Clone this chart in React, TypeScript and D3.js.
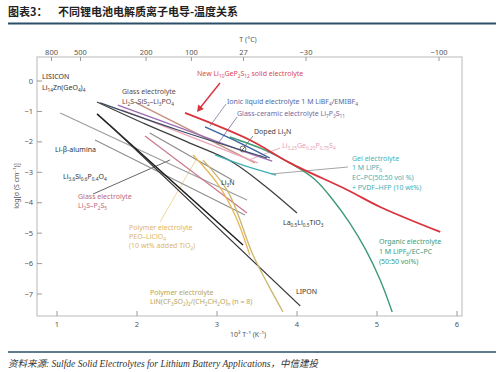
import React from "react";
import * as d3 from "d3";

// ---------- data (x = 1000/T in K^-1, y = log10 sigma) ----------
const xTicks = [1, 2, 3, 4, 5, 6];
const yTicks = [0, -1, -2, -3, -4, -5, -6, -7];
const topTicksC = [800, 500, 200, 100, 27, -30, -100];

const lgps: [number, number][] = [[2.6, -1.05], [3.41, -1.94], [3.91, -2.69], [4.63, -3.58], [5.04, -4.14], [5.79, -4.96]];
const organic: [number, number][] = [[3.16, -1.84], [3.6, -2.27], [3.91, -2.69], [4.23, -3.25], [4.45, -3.91], [4.66, -4.67], [4.86, -5.55], [5.04, -6.54], [5.19, -7.59]];
const ionicLiquid: [number, number][] = [[2.85, -1.51], [3.29, -2.04], [3.66, -2.53]];
const gel: [number, number][] = [[2.975, -2.43], [3.35, -2.79], [3.74, -3.09]];
const li7p3s11: [number, number][] = [[1.76, -0.79], [2.54, -1.54], [3.35, -2.33], [3.69, -2.63]];
const thioLisicon: [number, number][] = [[1.81, -0.95], [3.51, -2.69]];
const glassSiS2: [number, number][] = [[1.99, -0.72], [3.475, -2.69]];
const dopedLi3N: [number, number][] = [[1.54, -0.72], [2.51, -1.61], [3.625, -2.53]];
const llto: [number, number][] = [[1.5, -0.69], [2.1, -1.41], [2.66, -2.04], [3.19, -2.66], [3.6, -3.45], [4.0, -4.34]];
const lisicon: [number, number][] = [[1.5, -1.08], [3.325, -5.39]];
const lipon: [number, number][] = [[1.66, -1.45], [4.04, -7.39]];
const betaAlumina: [number, number][] = [[1.04, -1.05], [3.375, -3.91]];
const li36si: [number, number][] = [[1.475, -1.94], [3.35, -4.4]];
const glassP2S5: [number, number][] = [[2.1, -1.81], [3.375, -4.34]];
const li3n: [number, number][] = [[2.16, -1.71], [3.19, -3.25]];
const peoLiClO4: [number, number][] = [[2.7, -2.43], [3.0, -3.35], [3.225, -4.4], [3.41, -5.72]];
const peoLiTFSI: [number, number][] = [[2.825, -2.6], [3.14, -3.65], [3.45, -5.72], [3.64, -6.7], [3.825, -7.59]];

const series = [
  { name: "β-alumina", data: betaAlumina, color: "#9c9c9c", w: 1.1 },
  { name: "Li3.6Si", data: li36si, color: "#8e8e8e", w: 1.1 },
  { name: "Li3N", data: li3n, color: "#8a8a8a", w: 1.1 },
  { name: "Li2S-P2S5", data: glassP2S5, color: "#c9788a", w: 1.2 },
  { name: "Li2S-SiS2", data: glassSiS2, color: "#c4907c", w: 1.3 },
  { name: "thio-LISICON", data: thioLisicon, color: "#eca4b8", w: 1.3 },
  { name: "Li7P3S11", data: li7p3s11, color: "#9a6cb2", w: 1.3 },
  { name: "LLTO", data: llto, color: "#404040", w: 1.3 },
  { name: "doped Li3N", data: dopedLi3N, color: "#3a4a60", w: 1.3 },
  { name: "LISICON", data: lisicon, color: "#1c1c1c", w: 1.4 },
  { name: "LIPON", data: lipon, color: "#333333", w: 1.3 },
  { name: "PEO-LiClO4", data: peoLiClO4, color: "#e8b752", w: 1.3 },
  { name: "PEO-LiTFSI", data: peoLiTFSI, color: "#c9b56b", w: 1.3 },
  { name: "gel", data: gel, color: "#3fb0b4", w: 1.3 },
  { name: "ionic", data: ionicLiquid, color: "#3a64a0", w: 1.4 },
  { name: "organic", data: organic, color: "#3e9a76", w: 1.4 },
  { name: "LGPS", data: lgps, color: "#d9343e", w: 1.8 },
];

// ---------- annotation layout ----------
const labels = [
  { t: "LISICON", x: 42, y: 79, c: "#333" },
  { t: "Li_{14}Zn(GeO_{4})_{4}", x: 42, y: 90, c: "#333" },
  { t: "Glass electrolyte", x: 122, y: 94, c: "#5a4848" },
  { t: "Li_{2}S–SiS_{2}–Li_{3}PO_{4}", x: 122, y: 104, c: "#5a4848" },
  { t: "New Li_{10}GeP_{2}S_{12} solid electrolyte", x: 197, y: 76, c: "#d94a56" },
  { t: "Ionic liquid electrolyte 1 M LiBF_{4}/EMIBF_{4}", x: 227, y: 104, c: "#5468a0" },
  { t: "Glass-ceramic electrolyte Li_{7}P_{3}S_{11}", x: 237, y: 116, c: "#7868a0" },
  { t: "Doped Li_{3}N", x: 254, y: 134, c: "#444" },
  { t: "Li_{3.25}Ge_{0.25}P_{0.75}S_{4}", x: 282, y: 148, c: "#eaa0b8" },
  { t: "Gel electrolyte", x: 352, y: 161, c: "#48b0b5" },
  { t: "1 M LiPF_{6}", x: 352, y: 170, c: "#48b0b5" },
  { t: "EC–PC(50:50 vol %)", x: 352, y: 180, c: "#48b0b5" },
  { t: "+ PVDF–HFP (10 wt%)", x: 352, y: 190, c: "#48b0b5" },
  { t: "Li-β-alumina", x: 55, y: 152, c: "#333" },
  { t: "Li_{3.6}Si_{0.6}P_{0.4}O_{4}", x: 63, y: 179, c: "#333" },
  { t: "Glass electrolyte", x: 78, y: 199, c: "#c06878" },
  { t: "Li_{2}S–P_{2}S_{5}", x: 78, y: 208, c: "#c06878" },
  { t: "Li_{3}N", x: 221, y: 185, c: "#333" },
  { t: "La_{0.5}Li_{0.5}TiO_{3}", x: 283, y: 225, c: "#333" },
  { t: "Organic electrolyte", x: 379, y: 244, c: "#3e9a76" },
  { t: "1 M LiPF_{6}/EC–PC", x: 379, y: 254, c: "#3e9a76" },
  { t: "(50:50 vol%)", x: 379, y: 264, c: "#3e9a76" },
  { t: "LIPON", x: 296, y: 294, c: "#333" },
  { t: "Polymer electrolyte", x: 150, y: 295, c: "#b5a45c" },
  { t: "LiN(CF_{3}SO_{2})_{2}/(CH_{2}CH_{2}O)_{n} (n = 8)", x: 150, y: 304, c: "#b5a45c" },
  { t: "Polymer electrolyte", x: 129, y: 230, c: "#e2b565" },
  { t: "PEO–LiClO_{4}", x: 129, y: 239, c: "#e2b565" },
  { t: "(10 wt% added TiO_{2})", x: 129, y: 248, c: "#e2b565" },
];

const leaders = [
  { x1: 226, y1: 104, x2: 210, y2: 126, c: "#8a8ea8" },
  { x1: 237, y1: 117, x2: 217, y2: 145, c: "#8a7aa8" },
  { x1: 253, y1: 136, x2: 245, y2: 146, c: "#777" },
  { x1: 280, y1: 148, x2: 249, y2: 160, c: "#eaa0b8" },
  { x1: 348, y1: 167, x2: 271, y2: 174, c: "#9a9a9a" },
  { x1: 93, y1: 194, x2: 170, y2: 160, c: "#555" },
  { x1: 160, y1: 222, x2: 197, y2: 158, c: "#ecd290" },
];

const FONT = "'Noto Sans', 'Open Sans', sans-serif";

function Rich({ t, x, y, fs, fill, anchor }: { t: string; x: number; y: number; fs: number; fill: string; anchor?: string }) {
  const parts: { s: string; kind: "n" | "sub" | "sup" }[] = [];
  const re = /(_|\^)\{([^}]*)\}/g;
  let last = 0;
  let m: RegExpExecArray | null;
  while ((m = re.exec(t))) {
    if (m.index > last) parts.push({ s: t.slice(last, m.index), kind: "n" });
    parts.push({ s: m[2], kind: m[1] === "_" ? "sub" : "sup" });
    last = m.index + m[0].length;
  }
  if (last < t.length) parts.push({ s: t.slice(last), kind: "n" });
  let cur = 0;
  const spans = parts.map((p, i) => {
    const target = p.kind === "sub" ? fs * 0.3 : p.kind === "sup" ? -fs * 0.35 : 0;
    const dy = target - cur;
    cur = target;
    return (
      <tspan key={i} dy={dy} fontSize={p.kind === "n" ? fs : fs * 0.68}>
        {p.s}
      </tspan>
    );
  });
  return (
    <text x={x} y={y} fill={fill} fontFamily={FONT} fontSize={fs} textAnchor={anchor || "start"}>
      {spans}
    </text>
  );
}

export default function App() {
  const L = 37, R = 462, T = 57, B = 316;
  const x = d3.scaleLinear().domain([0.75, 6.0625]).range([L, R]);
  const y = d3.scaleLinear().domain([0.789, -7.722]).range([T, B]);
  const line = d3
    .line<[number, number]>()
    .x((d) => x(d[0]))
    .y((d) => y(d[1]))
    .curve(d3.curveCatmullRom.alpha(0.5));

  const tickColor = "#9a9a9a";
  const labColor = "#555";

  return (
    <svg width={500} height={372} style={{ position: "absolute", left: 0, top: 0, background: "#fff" }}>
      {/* title */}
      <text x={8} y={16} fontFamily="'Noto Sans CJK SC', sans-serif" fontWeight="bold" fontSize={11} fill="#222">
        图表3：
      </text>
      <text x={58} y={16} fontFamily="'Noto Sans CJK SC', sans-serif" fontWeight="bold" fontSize={11} fill="#222">
        不同锂电池电解质离子电导-温度关系
      </text>
      <line x1={8} x2={496} y1={23.5} y2={23.5} stroke="#2b4f66" strokeWidth={2} />

      {/* frame */}
      <rect x={L} y={T} width={R - L} height={B - T} fill="none" stroke="#c9c9c9" strokeWidth={1.3} />

      {/* bottom axis */}
      {xTicks.map((v) => (
        <g key={"x" + v}>
          <line x1={x(v)} x2={x(v)} y1={B} y2={B - 5} stroke={tickColor} />
          <text x={x(v)} y={327} textAnchor="middle" fontFamily={FONT} fontSize={7.5} fill={labColor}>
            {v}
          </text>
        </g>
      ))}
      <text x={248} y={337} textAnchor="middle" fontFamily={FONT} fontSize={7} fill={labColor}>
        10³ T⁻¹ (K⁻¹)
      </text>

      {/* left axis */}
      {yTicks.map((v) => (
        <g key={"y" + v}>
          <line x1={L} x2={L + 5} y1={y(v)} y2={y(v)} stroke={tickColor} />
          <text x={33} y={y(v) + 2.6} textAnchor="end" fontFamily={FONT} fontSize={7.5} fill={labColor}>
            {v === 0 ? "0" : "−" + Math.abs(v)}
          </text>
        </g>
      ))}
      <text
        transform="translate(19,186) rotate(-90)"
        textAnchor="middle"
        fontFamily={FONT}
        fontSize={7}
        fill={labColor}
      >
        log[σ (S cm⁻¹)]
      </text>

      {/* top axis */}
      {topTicksC.map((c) => {
        const px = x(1000 / (c + 273.15));
        return (
          <g key={"t" + c}>
            <line x1={px} x2={px} y1={T} y2={T + 4} stroke={tickColor} />
            <text x={px} y={55} textAnchor="middle" fontFamily={FONT} fontSize={7.5} fill={labColor}>
              {c < 0 ? "−" + Math.abs(c) : c}
            </text>
          </g>
        );
      })}
      <text x={248} y={42} textAnchor="middle" fontFamily={FONT} fontSize={7} fill={labColor}>
        T (°C)
      </text>

      {/* leaders */}
      {leaders.map((l, i) => (
        <line key={"l" + i} x1={l.x1} y1={l.y1} x2={l.x2} y2={l.y2} stroke={l.c} strokeWidth={0.9} />
      ))}

      {/* series */}
      {series.map((s) => (
        <path key={s.name} d={line(s.data) || ""} fill="none" stroke={s.color} strokeWidth={s.w} />
      ))}

      {/* doped Li3N marker */}
      <g stroke="#555" strokeWidth={0.8} fill="none">
        <circle cx={243} cy={149} r={3} />
        <line x1={241} y1={151} x2={245} y2={147} />
      </g>

      {/* LGPS arrow */}
      <line x1={220} y1={83} x2={200} y2={108} stroke="#d9343e" strokeWidth={1.4} />
      <path d="M197,112 L198.2,104.5 L203.8,108.9 Z" fill="#d9343e" />

      {/* labels */}
      {labels.map((lb, i) => (
        <Rich key={"t" + i} t={lb.t} x={lb.x} y={lb.y} fs={7} fill={lb.c} />
      ))}

      {/* source */}
      <line x1={8} x2={496} y1={352} y2={352} stroke="#2b4f66" strokeWidth={1.5} />
      <text x={8} y={367} fontFamily="'Liberation Serif', 'Noto Sans CJK SC', serif" fontStyle="italic" fontSize={9.5} fill="#333">
        资料来源: Sulfde Solid Electrolytes for Lithium Battery Applications，中信建投
      </text>
    </svg>
  );
}
